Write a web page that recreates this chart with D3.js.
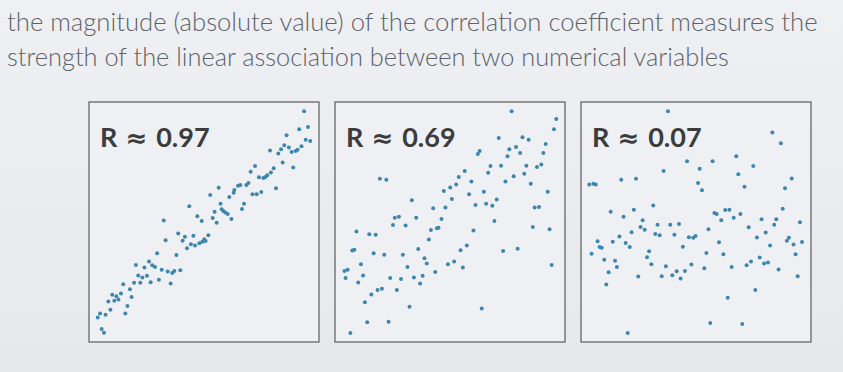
<!DOCTYPE html>
<html>
<head>
<meta charset="utf-8">
<script src="https://cdn.jsdelivr.net/npm/d3@7"></script>
<style>
    body { margin: 0; padding: 0; background: #eceef2; }
    svg { display: block; }
</style>
</head>
<body>
<div class="container"></div>
<script>

// title lines above the plots
var titleLines = [
    "the magnitude (absolute value) of the correlation coefficient measures the",
    "strength of the linear association between two numerical variables"
];

// correlation values shown in the three panels
var panelValues = ["0.97", "0.69", "0.07"];

// strong positive association, [x, y] on a 0-100 scale
var strongPoints = [
    [93.5, 96.1], [91.4, 88.6], [95.2, 89.6], [85.9, 86.1], [94.2, 84.3], [96.2, 83.7],
    [84.9, 82.0], [86.9, 81.0], [83.5, 80.3], [82.3, 78.5], [88.1, 79.2], [89.8, 79.6],
    [90.7, 80.1], [92.4, 81.6], [78.7, 79.8], [84.2, 74.8], [88.8, 72.7], [72.2, 73.3],
    [70.3, 70.9], [80.3, 72.4], [79.1, 70.6], [77.5, 69.5], [76.7, 68.8], [75.8, 68.3],
    [73.9, 68.6], [69.3, 66.3], [68.4, 65.4], [65.8, 65.4], [64.8, 65.1], [63.2, 63.3],
    [62.9, 62.2], [61.0, 60.4], [81.3, 64.1], [74.9, 62.5], [72.9, 61.6], [71.1, 61.6],
    [56.4, 64.3], [52.7, 61.2], [67.4, 57.6], [66.5, 55.4], [57.2, 57.6], [57.7, 55.3],
    [58.4, 54.6], [59.3, 54.0], [60.3, 53.3], [61.9, 51.2], [54.6, 54.3], [53.8, 51.7],
    [55.5, 49.7], [43.6, 56.6], [47.1, 52.4], [49.0, 50.4], [32.5, 50.6], [51.9, 44.5],
    [50.1, 42.8], [50.7, 42.1], [49.3, 41.8], [48.0, 41.1], [46.1, 40.2], [44.3, 40.7],
    [42.6, 39.1], [45.4, 44.3], [41.7, 43.9], [40.7, 42.2], [38.8, 45.2], [33.3, 42.4],
    [38.0, 36.3], [29.6, 37.0], [26.1, 33.5], [27.5, 32.0], [28.7, 31.2], [20.4, 32.1],
    [24.1, 31.0], [31.6, 30.1], [34.2, 29.4], [36.2, 28.7], [37.1, 29.6], [39.7, 29.9],
    [35.5, 24.4], [30.4, 25.9], [26.8, 24.9], [25.2, 27.6], [23.2, 26.9], [21.4, 27.7],
    [22.3, 24.7], [19.6, 24.7], [14.9, 24.1], [17.8, 22.0], [13.9, 20.2], [12.8, 17.7],
    [11.0, 17.2], [10.1, 19.7], [11.9, 19.1], [8.4, 16.9], [18.5, 18.8], [16.7, 15.0],
    [15.8, 11.9], [9.3, 13.4], [7.2, 11.4], [4.8, 11.9], [3.8, 10.2], [5.5, 5.4],
    [6.5, 3.9]
];

// moderate positive association
var moderatePoints = [
    [76.8, 96.1], [96.2, 92.9], [95.2, 88.6], [71.2, 85.0], [81.5, 85.3], [84.2, 84.3],
    [91.6, 82.5], [75.8, 80.3], [78.7, 81.3], [80.5, 78.8], [75.0, 77.4], [62.9, 79.6],
    [62.1, 78.3], [90.6, 78.8], [83.2, 73.4], [87.8, 72.9], [89.7, 74.0], [72.2, 73.4],
    [67.6, 73.3], [66.6, 70.5], [56.4, 71.3], [53.8, 68.8], [82.3, 70.1], [77.7, 69.1],
    [74.1, 66.9], [59.3, 66.9], [52.7, 65.6], [50.1, 64.4], [47.3, 62.9], [19.5, 68.0],
    [22.3, 67.6], [92.5, 62.6], [85.1, 65.9], [64.7, 62.6], [58.3, 61.6], [50.8, 59.6],
    [48.0, 56.0], [42.7, 55.7], [33.4, 59.1], [61.1, 57.1], [65.7, 57.6], [68.4, 56.8],
    [70.3, 59.4], [86.8, 56.0], [88.7, 56.2], [69.3, 50.4], [86.0, 47.9], [93.3, 47.0],
    [46.3, 51.2], [45.0, 47.6], [44.3, 47.4], [41.7, 46.7], [40.8, 42.7], [35.3, 51.8],
    [30.7, 48.5], [26.0, 51.8], [27.8, 52.2], [25.2, 48.8], [60.2, 46.5], [9.3, 46.0],
    [14.9, 44.9], [17.7, 44.7], [57.3, 40.2], [54.6, 38.2], [36.2, 38.8], [29.5, 36.4],
    [21.4, 36.4], [16.8, 37.0], [8.4, 38.4], [7.5, 38.1], [73.1, 37.9], [79.4, 38.9],
    [38.9, 34.9], [39.9, 32.7], [31.5, 31.2], [49.1, 32.4], [51.8, 33.5], [55.6, 31.0],
    [43.6, 29.2], [11.3, 32.4], [4.1, 29.6], [5.5, 30.1], [4.6, 26.7], [12.2, 27.7],
    [10.1, 24.8], [24.0, 26.7], [28.7, 26.3], [34.3, 26.9], [38.1, 27.6], [37.0, 24.4],
    [26.9, 21.7], [20.4, 22.2], [18.5, 21.7], [15.8, 19.8], [13.0, 16.6], [32.4, 14.7],
    [94.2, 32.1], [63.8, 14.0], [14.0, 8.2], [23.3, 8.4], [6.7, 3.7]
];

// almost no association
var weakPoints = [
    [37.8, 96.1], [83.2, 87.3], [86.9, 82.8], [46.1, 75.3], [57.2, 75.3], [67.5, 77.4],
    [74.9, 73.3], [51.6, 72.2], [35.9, 71.3], [68.4, 69.9], [17.5, 67.6], [23.9, 68.0],
    [3.6, 65.6], [5.4, 65.9], [6.4, 65.6], [50.9, 66.2], [52.6, 63.2], [71.1, 64.7],
    [91.6, 68.1], [88.7, 64.1], [31.4, 56.9], [12.9, 54.3], [23.0, 55.1], [18.5, 52.2],
    [58.0, 53.7], [59.0, 53.3], [62.7, 55.0], [64.5, 55.1], [61.0, 50.7], [66.4, 51.8],
    [69.3, 53.3], [87.7, 55.5], [26.8, 50.7], [25.9, 47.9], [27.7, 46.8], [22.0, 45.7],
    [33.3, 48.9], [38.8, 48.9], [42.6, 49.2], [32.3, 45.0], [34.2, 44.5], [40.6, 44.7],
    [55.4, 47.0], [72.9, 47.8], [78.5, 51.1], [84.9, 51.1], [84.0, 48.9], [95.2, 49.9],
    [80.3, 45.6], [76.5, 43.5], [16.7, 44.0], [7.2, 42.0], [13.8, 41.8], [19.4, 41.3],
    [21.2, 39.6], [8.1, 39.6], [9.0, 39.3], [46.9, 43.6], [48.8, 43.4], [49.8, 44.2],
    [44.3, 39.7], [60.0, 41.6], [89.5, 42.2], [90.4, 43.4], [92.4, 40.6], [96.1, 41.7],
    [82.2, 40.2], [4.6, 36.8], [29.6, 37.8], [28.7, 35.3], [54.5, 37.1], [61.9, 36.6],
    [93.3, 36.6], [10.1, 34.3], [14.8, 33.9], [15.6, 31.3], [12.0, 29.1], [30.6, 32.4],
    [36.9, 31.6], [48.0, 32.3], [53.6, 30.7], [65.5, 31.3], [72.0, 32.0], [73.9, 33.5],
    [77.7, 35.2], [79.6, 32.7], [81.3, 33.1], [85.9, 30.2], [94.2, 27.4], [24.9, 27.3],
    [35.1, 27.4], [39.7, 27.8], [41.6, 29.5], [45.2, 29.6], [43.3, 26.5], [11.0, 24.0],
    [75.8, 21.7], [63.8, 18.4], [56.2, 7.9], [70.1, 7.5], [20.3, 3.7]
];

var panelData = [strongPoints, moderatePoints, weakPoints];

// size of the page and the panels
var width = 843;
var height = 372;
var panel = {left: 89, top: 102, width: 230, height: 240, gap: 16};

// make svg
var svg = d3.select(".container")
            .append("svg")
            .attr("width", width)
            .attr("height", height);

// soft slide background
var grad = svg.append("defs")
              .append("linearGradient")
              .attr("id", "bg")
              .attr("x1", 0).attr("y1", 0)
              .attr("x2", 0).attr("y2", 1);
grad.append("stop").attr("offset", "0%").attr("stop-color", "#eef0f4");
grad.append("stop").attr("offset", "100%").attr("stop-color", "#e7e8ec");

svg.append("rect")
   .attr("width", width)
   .attr("height", height)
   .attr("fill", "url(#bg)");

// title text, scaled so each line fills the same width as the slide
var titleWidths = [811, 722];
var title = svg.append("g")
               .attr("class", "title");

titleLines.forEach(function(line, i) {
    var t = title.append("text")
                 .attr("x", 7)
                 .attr("y", 31 + i * 35)
                 .attr("font-family", "'Lato Light', Lato, 'Open Sans', sans-serif")
                 .attr("font-weight", 300)
                 .attr("font-size", 25)
                 .attr("fill", "#5e6268")
                 .text(line);
    var w = t.node().getComputedTextLength();
    t.attr("font-size", 25 * titleWidths[i] / w);
});

// draw each panel
panelData.forEach(function(points, i) {
    var left = panel.left + i * (panel.width + panel.gap);

    var xScale = d3.scaleLinear()
                   .domain([0, 100])
                   .range([left, left + panel.width]);

    var yScale = d3.scaleLinear()
                   .domain([0, 100])
                   .range([panel.top + panel.height, panel.top]);

    var g = svg.append("g")
               .attr("class", "panel");

    // frame
    g.append("rect")
     .attr("x", left)
     .attr("y", panel.top)
     .attr("width", panel.width)
     .attr("height", panel.height)
     .attr("fill", "#eff0f3")
     .attr("stroke", "#707070")
     .attr("stroke-width", 1.4);

    // dots
    g.selectAll(".dot")
     .data(points)
     .enter()
     .append("circle")
     .attr("class", "dot")
     .attr("cx", function(d) { return xScale(d[0]); })
     .attr("cy", function(d) { return yScale(d[1]); })
     .attr("r", 2)
     .attr("fill", "#3d86ad");

    // correlation label, the approx sign gets a wider font
    var label = g.append("text")
                 .attr("x", left + 11)
                 .attr("y", 147)
                 .attr("font-family", "Lato, 'Open Sans', sans-serif")
                 .attr("font-weight", 700)
                 .attr("font-size", 27)
                 .attr("fill", "#3b3c3e");
    label.append("tspan").text("R");
    label.append("tspan")
         .attr("dx", 8)
         .attr("font-family", "'DejaVu Sans', sans-serif")
         .attr("font-size", 26)
         .text("\u2248");
    label.append("tspan")
         .attr("dx", 9)
         .text(panelValues[i]);
});

</script>
</body>
</html>
